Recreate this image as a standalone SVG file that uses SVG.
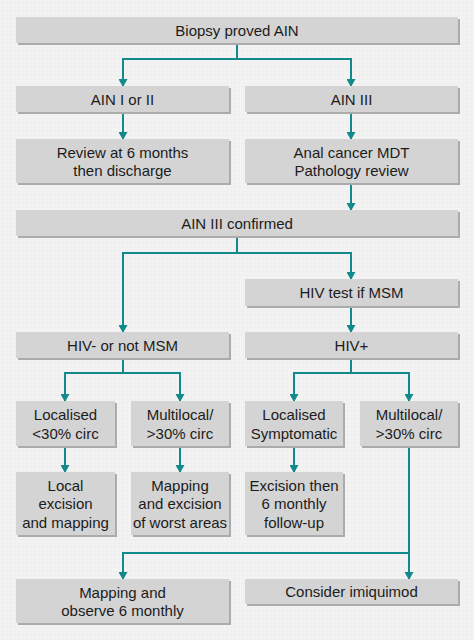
<svg xmlns="http://www.w3.org/2000/svg" width="474" height="640" viewBox="0 0 474 640">
<defs>
<pattern id="grid" width="4" height="4" patternUnits="userSpaceOnUse">
<rect width="4" height="4" fill="#f3f3f3"/>
<path d="M4 0V4M0 4H4" stroke="#e9e9e9" stroke-width="0.6" fill="none"/>
</pattern>
<marker id="ah" markerWidth="8" markerHeight="9" refX="7" refY="4.5" orient="auto" markerUnits="userSpaceOnUse">
<path d="M0 0L8 4.5L0 9Z" fill="#12898b"/>
</marker>
<style>
.box{fill:#d4d4d4}
.sh{fill:#ababab}
.t{font-family:"Liberation Sans",Arial,sans-serif;font-size:15px;fill:#1c1c1c;text-anchor:middle}
.c{fill:none;stroke:#12898b;stroke-width:2}
.a{marker-end:url(#ah)}
</style>
</defs>
<rect width="474" height="640" fill="url(#grid)"/>

<g id="connectors">
<path class="c" d="M237 43V59M123 59H351"/>
<path class="c a" d="M123 58V86"/>
<path class="c a" d="M351 58V86"/>
<path class="c a" d="M123 112V139"/>
<path class="c a" d="M351 112V139"/>
<path class="c a" d="M351 183V210"/>
<path class="c" d="M237 236V253M123 253H351"/>
<path class="c a" d="M123 252V332"/>
<path class="c a" d="M351 252V279"/>
<path class="c a" d="M351 306V332"/>
<path class="c" d="M123 358V373M65 373H180"/>
<path class="c a" d="M65 372V401"/>
<path class="c a" d="M180 372V401"/>
<path class="c" d="M351 358V373M294 373H409"/>
<path class="c a" d="M294 372V401"/>
<path class="c a" d="M409 372V401"/>
<path class="c a" d="M65 446V472"/>
<path class="c a" d="M180 446V472"/>
<path class="c a" d="M294 446V472"/>
<path class="c a" d="M409 446V579"/>
<path class="c" d="M409 553H123"/>
<path class="c a" d="M123 552V579"/>
</g>

<g id="n1"><rect class="sh" x="18" y="19" width="442" height="26"/><rect class="box" x="16" y="17" width="442" height="26"/><text class="t" x="237" y="35.5">Biopsy proved AIN</text></g>
<g id="n2"><rect class="sh" x="18" y="88" width="213" height="26"/><rect class="box" x="16" y="86" width="213" height="26"/><text class="t" x="122.5" y="104.5">AIN I or II</text></g>
<g id="n3"><rect class="sh" x="247" y="88" width="213" height="26"/><rect class="box" x="245" y="86" width="213" height="26"/><text class="t" x="351.5" y="104.5">AIN III</text></g>
<g id="n4"><rect class="sh" x="18" y="141" width="213" height="44"/><rect class="box" x="16" y="139" width="213" height="44"/><text class="t" x="122.5" y="157.5">Review at 6 months</text><text class="t" x="122.5" y="175.5">then discharge</text></g>
<g id="n5"><rect class="sh" x="247" y="141" width="213" height="44"/><rect class="box" x="245" y="139" width="213" height="44"/><text class="t" x="351.5" y="157.5">Anal cancer MDT</text><text class="t" x="351.5" y="175.5">Pathology review</text></g>
<g id="n6"><rect class="sh" x="18" y="212" width="442" height="26"/><rect class="box" x="16" y="210" width="442" height="26"/><text class="t" x="237" y="228.5">AIN III confirmed</text></g>
<g id="n7"><rect class="sh" x="247" y="281" width="213" height="27"/><rect class="box" x="245" y="279" width="213" height="27"/><text class="t" x="351.5" y="297.5">HIV test if MSM</text></g>
<g id="n8"><rect class="sh" x="18" y="334" width="213" height="26"/><rect class="box" x="16" y="332" width="213" height="26"/><text class="t" x="122.5" y="350.5">HIV- or not MSM</text></g>
<g id="n9"><rect class="sh" x="247" y="334" width="213" height="26"/><rect class="box" x="245" y="332" width="213" height="26"/><text class="t" x="351.5" y="350.5">HIV+</text></g>
<g id="n10"><rect class="sh" x="18" y="403" width="99" height="45"/><rect class="box" x="16" y="401" width="99" height="45"/><text class="t" x="65.5" y="420">Localised</text><text class="t" x="65.5" y="438.5">&lt;30% circ</text></g>
<g id="n11"><rect class="sh" x="133" y="403" width="98" height="45"/><rect class="box" x="131" y="401" width="98" height="45"/><text class="t" x="180" y="420">Multilocal/</text><text class="t" x="180" y="438.5">&gt;30% circ</text></g>
<g id="n12"><rect class="sh" x="247" y="403" width="98" height="45"/><rect class="box" x="245" y="401" width="98" height="45"/><text class="t" x="294" y="420">Localised</text><text class="t" x="294" y="438.5">Symptomatic</text></g>
<g id="n13"><rect class="sh" x="362" y="403" width="98" height="45"/><rect class="box" x="360" y="401" width="98" height="45"/><text class="t" x="409" y="420">Multilocal/</text><text class="t" x="409" y="438.5">&gt;30% circ</text></g>
<g id="n14"><rect class="sh" x="18" y="474" width="99" height="63"/><rect class="box" x="16" y="472" width="99" height="63"/><text class="t" x="65.5" y="490.5">Local</text><text class="t" x="65.5" y="509">excision</text><text class="t" x="65.5" y="527.5">and mapping</text></g>
<g id="n15"><rect class="sh" x="133" y="474" width="98" height="63"/><rect class="box" x="131" y="472" width="98" height="63"/><text class="t" x="180" y="490.5">Mapping</text><text class="t" x="180" y="509">and excision</text><text class="t" x="180" y="527.5">of worst areas</text></g>
<g id="n16"><rect class="sh" x="247" y="474" width="98" height="63"/><rect class="box" x="245" y="472" width="98" height="63"/><text class="t" x="294" y="490.5">Excision then</text><text class="t" x="294" y="509">6 monthly</text><text class="t" x="294" y="527.5">follow-up</text></g>
<g id="n17"><rect class="sh" x="18" y="581" width="213" height="44"/><rect class="box" x="16" y="579" width="213" height="44"/><text class="t" x="122.5" y="597.5">Mapping and</text><text class="t" x="122.5" y="615.5">observe 6 monthly</text></g>
<g id="n18"><rect class="sh" x="247" y="581" width="213" height="25"/><rect class="box" x="245" y="579" width="213" height="25"/><text class="t" x="351.5" y="596.5">Consider imiquimod</text></g>
</svg>
